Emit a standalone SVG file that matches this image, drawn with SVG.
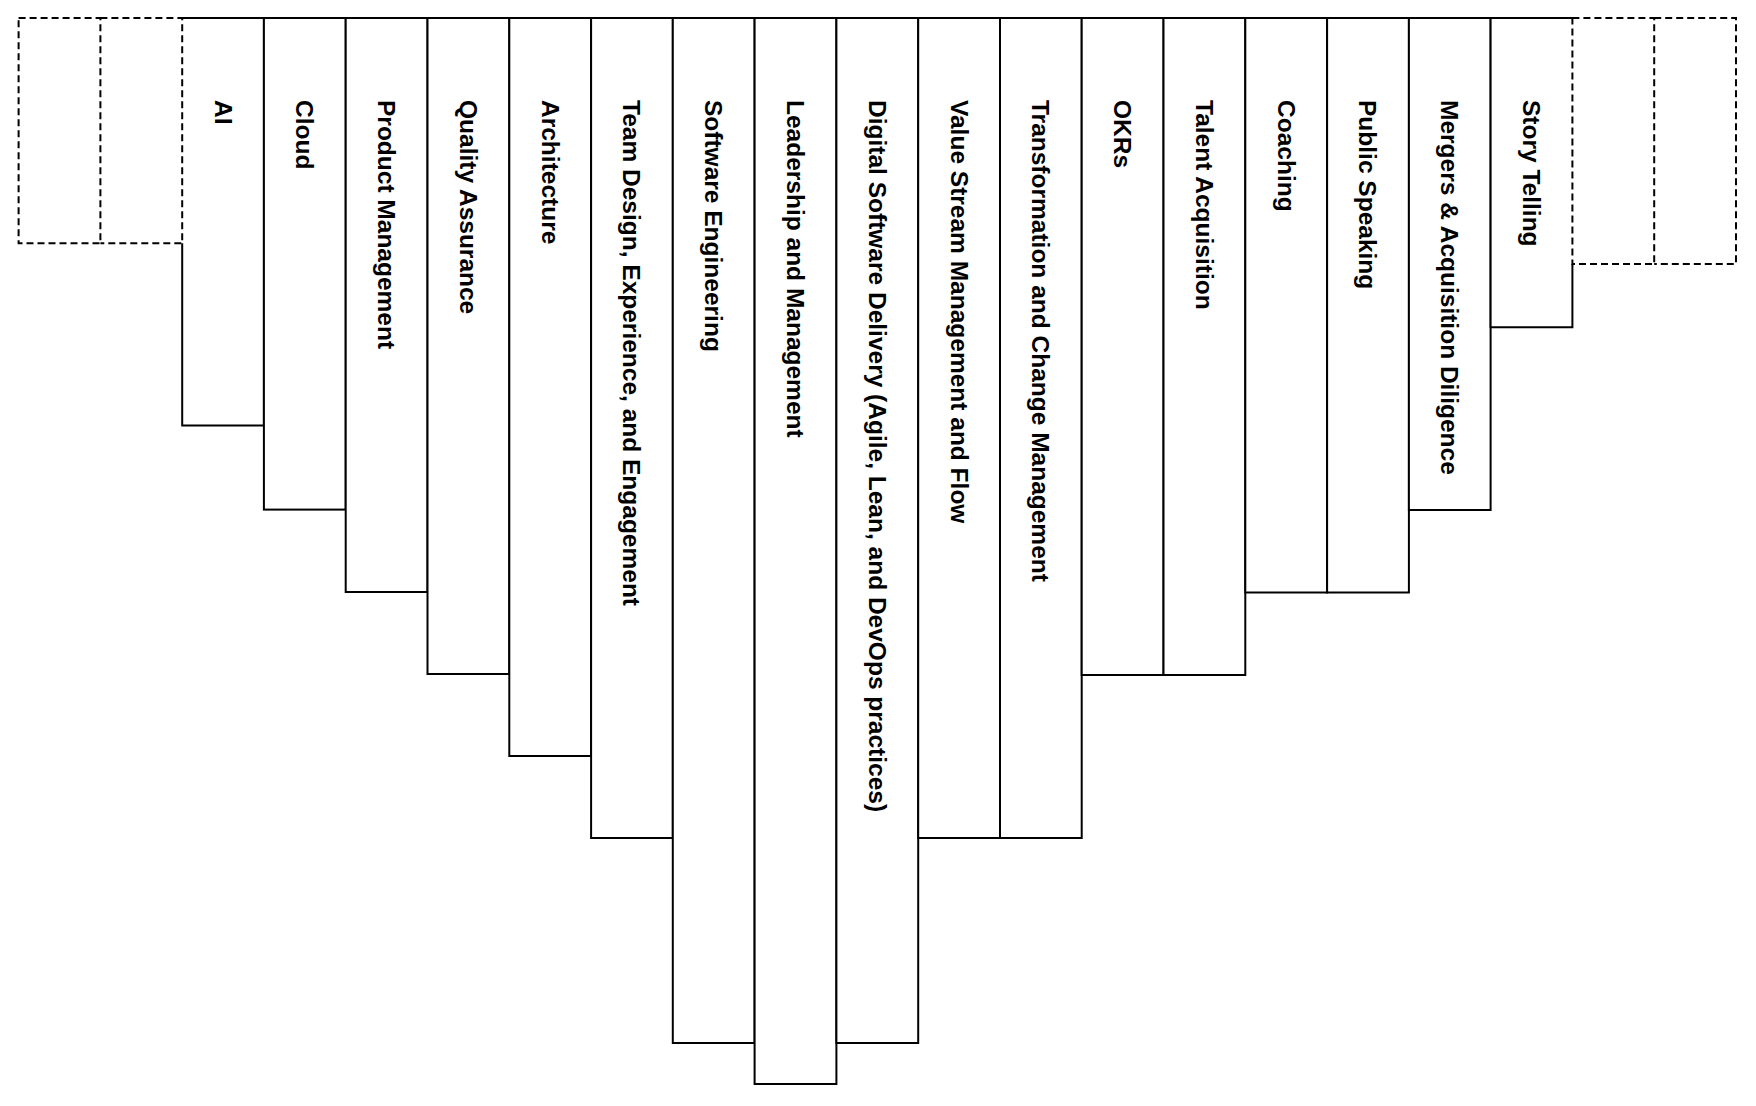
<svg xmlns="http://www.w3.org/2000/svg" width="1756" height="1106" viewBox="0 0 1756 1106">
<style>
.box{fill:#ffffff;stroke:#000000;stroke-width:2}
.dash{fill:none;stroke:#000000;stroke-width:2;stroke-dasharray:7 4}
.lbl{font-family:"Liberation Sans",Arial,sans-serif;font-weight:bold;font-size:24.5px;fill:#000000}
</style>
<rect width="1756" height="1106" fill="#ffffff"/>
<g id="col-ai"><path class="box" d="M182.2,243.3 V425.5 H263.9 V18 H182.2"/><text class="lbl" transform="translate(214.5,100) rotate(90)">AI</text></g>
<g id="col-cloud"><rect class="box" x="263.9" y="18" width="81.8" height="491.6"/><text class="lbl" transform="translate(296.2,100) rotate(90)">Cloud</text></g>
<g id="col-pm"><rect class="box" x="345.7" y="18" width="81.8" height="574"/><text class="lbl" transform="translate(378,100) rotate(90)">Product Management</text></g>
<g id="col-qa"><rect class="box" x="427.5" y="18" width="81.8" height="656"/><text class="lbl" transform="translate(459.8,100) rotate(90)">Quality Assurance</text></g>
<g id="col-arch"><rect class="box" x="509.3" y="18" width="81.8" height="738"/><text class="lbl" transform="translate(541.6,100) rotate(90)">Architecture</text></g>
<g id="col-team"><rect class="box" x="591.1" y="18" width="81.7" height="820"/><text class="lbl" transform="translate(623.4,100) rotate(90)">Team Design, Experience, and Engagement</text></g>
<g id="col-se"><rect class="box" x="672.8" y="18" width="81.8" height="1025"/><text class="lbl" transform="translate(705.1,100) rotate(90)">Software Engineering</text></g>
<g id="col-lm"><rect class="box" x="754.6" y="18" width="81.8" height="1066"/><text class="lbl" transform="translate(786.9,100) rotate(90)">Leadership and Management</text></g>
<g id="col-dsd"><rect class="box" x="836.4" y="18" width="81.8" height="1025"/><text class="lbl" transform="translate(868.7,100) rotate(90)">Digital Software Delivery (Agile, Lean, and DevOps practices)</text></g>
<g id="col-vsm"><rect class="box" x="918.2" y="18" width="81.8" height="820"/><text class="lbl" transform="translate(950.5,100) rotate(90)">Value Stream Management and Flow</text></g>
<g id="col-tcm"><rect class="box" x="1000" y="18" width="81.7" height="820"/><text class="lbl" transform="translate(1032.3,100) rotate(90)">Transformation and Change Management</text></g>
<g id="col-okrs"><rect class="box" x="1081.7" y="18" width="81.8" height="657"/><text class="lbl" transform="translate(1114,100) rotate(90)">OKRs</text></g>
<g id="col-ta"><rect class="box" x="1163.5" y="18" width="81.8" height="657"/><text class="lbl" transform="translate(1195.8,100) rotate(90)">Talent Acquisition</text></g>
<g id="col-coaching"><rect class="box" x="1245.3" y="18" width="81.8" height="574.5"/><text class="lbl" transform="translate(1277.6,100) rotate(90)">Coaching</text></g>
<g id="col-ps"><rect class="box" x="1327.1" y="18" width="81.8" height="574.5"/><text class="lbl" transform="translate(1359.4,100) rotate(90)">Public Speaking</text></g>
<g id="col-ma"><rect class="box" x="1408.9" y="18" width="81.7" height="492"/><text class="lbl" transform="translate(1441.2,100) rotate(90)">Mergers &amp; Acquisition Diligence</text></g>
<g id="col-story"><path class="box" d="M1572.4,264 V327.3 H1490.6 V18 H1572.4"/><text class="lbl" transform="translate(1522.9,100) rotate(90)">Story Telling</text></g>
<g id="blank-left-1"><path class="dash" d="M18.6,18 H100.4 V243.3 H18.6 Z"/></g>
<g id="blank-left-2"><path class="dash" d="M100.4,18 H182.2 V243.3 H100.4"/></g>
<g id="blank-right-1"><path class="dash" d="M1572.4,18 H1654.2 V264 H1572.4 Z"/></g>
<g id="blank-right-2"><path class="dash" d="M1654.2,18 H1736 V264 H1654.2"/></g>
<g id="connectors"></g>
</svg>
